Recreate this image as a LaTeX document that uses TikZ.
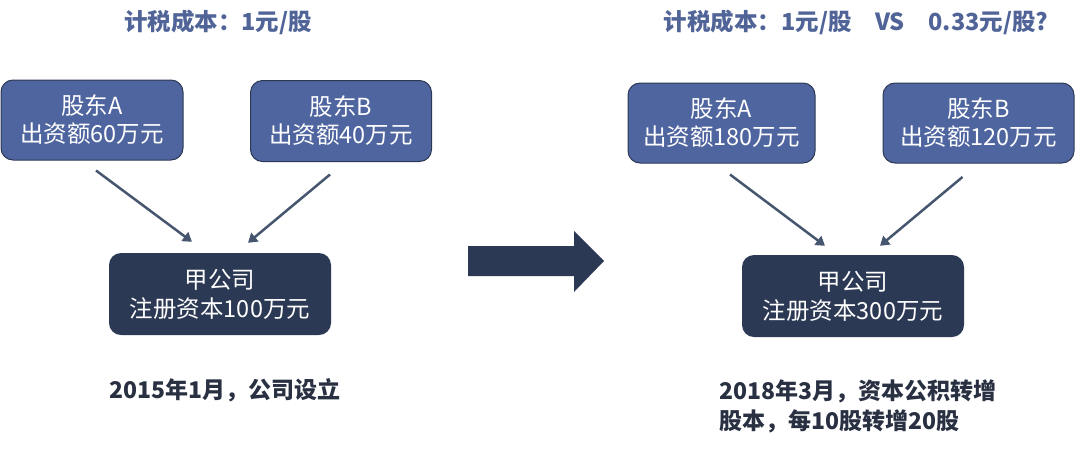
\documentclass[tikz,border=0pt]{standalone}
\usepackage{fontspec}
\setmainfont{Noto Sans CJK SC}
\usetikzlibrary{arrows.meta,calc}
\definecolor{boxblue}{RGB}{79,101,160}
\definecolor{boxdark}{RGB}{44,57,84}
\definecolor{titleblue}{RGB}{80,100,152}
\definecolor{arrowgray}{RGB}{70,86,110}
\definecolor{txtdark}{RGB}{40,48,66}
\tikzset{
  holder/.style={draw=boxdark, line width=1pt, fill=boxblue, rounded corners=12pt, text=white,
    align=center, font=\fontsize{23.5}{28}\selectfont, inner sep=0pt},
  company/.style={fill=boxdark, rounded corners=12pt, text=white,
    align=center, font=\fontsize{23.5}{29}\selectfont, inner sep=0pt,
    minimum width=222pt, minimum height=82pt},
  conn/.style={draw=arrowgray, line width=2.5pt, -{Triangle[width=11pt,length=9pt]}},
  titletxt/.style={text=titleblue, font=\fontsize{23.5}{28}\selectfont\bfseries},
  datetxt/.style={text=txtdark, font=\fontsize{23}{30}\selectfont\bfseries, align=left, anchor=west}
}
\begin{document}
\begin{tikzpicture}[x=1pt,y=-1pt]
\useasboundingbox (0,0) rectangle (1075,451);
% titles
\node[titletxt] (t1) at (218,22) {计税成本：1元/股};
\node[titletxt] (t2) at (856,22) {计税成本：1元/股\hspace{1em}VS\hspace{1em}0.33元/股?};
% left side
\node[holder, minimum width=182pt, minimum height=80pt] (lA) at (92,120) {股东A\\出资额60万元};
\node[holder, minimum width=181pt, minimum height=81pt] (lB) at (341,121) {股东B\\出资额40万元};
\node[company] (lJ) at (220,294) {甲公司\\注册资本100万元};
\draw[conn] ($(lA.south)+(4,10)$) -- ($(lJ.north)+(-28,-11)$);
\draw[conn] ($(lB.south)+(-11,12.5)$) -- ($(lJ.north)+(28,-10)$);
% right side
\node[holder, minimum width=187pt, minimum height=80pt] (rA) at (721.5,123) {股东A\\出资额180万元};
\node[holder, minimum width=191pt, minimum height=80pt] (rB) at (978.5,123) {股东B\\出资额120万元};
\node[company] (rJ) at (853,296) {甲公司\\注册资本300万元};
\draw[conn] ($(rA.south)+(8.5,11)$) -- ($(rJ.north)+(-28,-9)$);
\draw[conn] ($(rB.south)+(-16,13.5)$) -- ($(rJ.north)+(27,-9)$);
% big arrow
\fill[boxdark] (468,246) -- (574,246) -- (574,231) -- (604,261) -- (574,292) -- (574,276) -- (468,276) -- cycle;
% bottom texts
\node[datetxt] (d1) at (106,390) {2015年1月，公司设立};
\node[datetxt] (d2) at (716,406) {2018年3月，资本公积转增\\股本，每10股转增20股};
\end{tikzpicture}
\end{document}
